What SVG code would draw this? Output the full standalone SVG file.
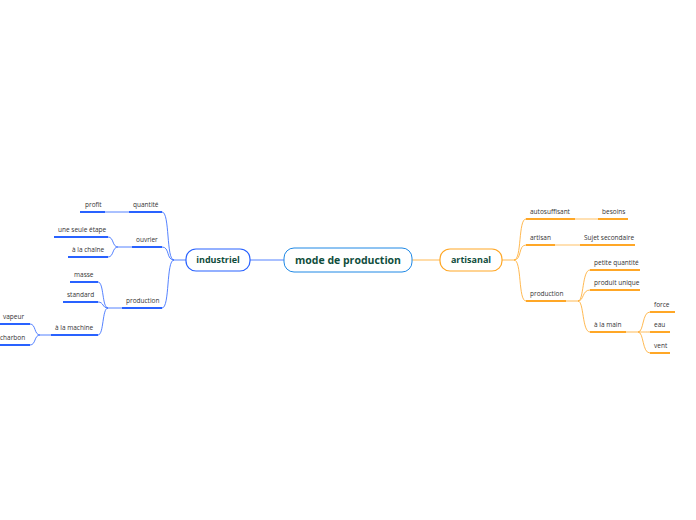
<svg xmlns="http://www.w3.org/2000/svg" width="696" height="520" viewBox="0 0 696 520">
<style>
text{font-family:"Open Sans","Liberation Sans",sans-serif;font-size:6.5px;fill:#333}
.b{stroke:#2962ff;stroke-width:2;fill:none}
.bl{stroke:#2962ff;stroke-width:0.8;fill:none}
.o{stroke:#ffa726;stroke-width:2;fill:none}
.ol{stroke:#ffa726;stroke-width:0.8;fill:none}
.pale{stroke:#ffe0b2;stroke-width:2;fill:none}
.t{font-size:10px;font-weight:bold;fill:#0f4d3c}
</style>
<rect width="696" height="520" fill="#fff"/>
<g id="connectors">
<path class="bl" d="M284 260H250"/>
<path class="ol" d="M412 260H440"/>
<path class="bl" d="M186 260H174C166 260 170 212 162 212M174 260C166 260 170 247 162 247M174 260C166 260 170 308 162 308"/>
<path class="bl" d="M129 212H105"/>
<path class="bl" d="M132 247H118C112 247 114 237 108 237M118 247C112 247 114 257 108 257"/>
<path class="bl" d="M122 308H108C102 308 104 282 98 282M108 308C102 308 104 302 98 302M108 308C102 308 104 335 98 335"/>
<path class="bl" d="M51 335H40C34 335 36 324 30 324M40 335C34 335 36 345 30 345"/>
<path class="ol" d="M502 260H514C522 260 518 219 526 219M514 260C522 260 518 245 526 245M514 260C522 260 518 301 526 301"/>
<path class="pale" d="M575 219H598M555 245H580"/>
<path class="ol" d="M566 301H578C584 301 582 270 590 270M578 301C584 301 582 290 590 290M578 301C584 301 582 332 590 332"/>
<path class="ol" d="M626 332H638C644 332 642 312 650 312M638 332C644 332 642 332 650 332M638 332C644 332 642 353 650 353"/>
</g>
<g id="center"><rect x="284" y="248" width="128" height="24" rx="10" fill="#fff" stroke="#1e88e5" stroke-width="1"/><text x="348" y="264" text-anchor="middle" class="t" style="font-size:10.5px">mode de production</text></g>
<g id="industriel"><rect x="186" y="249" width="64" height="22" rx="10" fill="#fff" stroke="#2962ff" stroke-width="1.2"/><text x="218" y="263" text-anchor="middle" class="t" style="font-size:9px">industriel</text></g>
<g id="artisanal"><rect x="440" y="249" width="62" height="22" rx="10" fill="#fff" stroke="#ffa726" stroke-width="1.2"/><text x="471" y="263" text-anchor="middle" class="t" style="font-size:9px">artisanal</text></g>
<g id="quantite"><path class="b" d="M129 212H162"/><text x="133" y="207">quantité</text></g>
<g id="profit"><path class="b" d="M80 212H105"/><text x="85" y="207">profit</text></g>
<g id="ouvrier"><path class="b" d="M132 247H162"/><text x="136" y="242">ouvrier</text></g>
<g id="etape"><path class="b" d="M54 237H108"/><text x="58" y="232">une seule étape</text></g>
<g id="chaine"><path class="b" d="M68 257H108"/><text x="72" y="252">à la chaîne</text></g>
<g id="production-i"><path class="b" d="M122 308H162"/><text x="126" y="303">production</text></g>
<g id="masse"><path class="b" d="M70 282H98"/><text x="74" y="277">masse</text></g>
<g id="standard"><path class="b" d="M63 302H98"/><text x="67" y="297">standard</text></g>
<g id="machine"><path class="b" d="M51 335H98"/><text x="55" y="330">à la machine</text></g>
<g id="vapeur"><path class="b" d="M0 324H30"/><text x="3" y="319">vapeur</text></g>
<g id="charbon"><path class="b" d="M0 345H30"/><text x="0" y="340">charbon</text></g>
<g id="autosuffisant"><path class="o" d="M526 219H575"/><text x="530" y="214">autosuffisant</text></g>
<g id="besoins"><path class="o" d="M598 219H628"/><text x="602" y="214">besoins</text></g>
<g id="artisan"><path class="o" d="M526 245H555"/><text x="530" y="240">artisan</text></g>
<g id="sujet"><path class="o" d="M580 245H635"/><text x="584" y="240">Sujet secondaire</text></g>
<g id="production-a"><path class="o" d="M526 301H566"/><text x="530" y="296">production</text></g>
<g id="petite"><path class="o" d="M590 270H640"/><text x="594" y="265">petite quantité</text></g>
<g id="unique"><path class="o" d="M590 290H640"/><text x="594" y="285">produit unique</text></g>
<g id="main"><path class="o" d="M590 332H626"/><text x="594" y="327">à  la main</text></g>
<g id="force"><path class="o" d="M650 312H675"/><text x="654" y="307">force</text></g>
<g id="eau"><path class="o" d="M650 332H670"/><text x="654" y="327">eau</text></g>
<g id="vent"><path class="o" d="M650 353H670"/><text x="654" y="348">vent</text></g>
</svg>
